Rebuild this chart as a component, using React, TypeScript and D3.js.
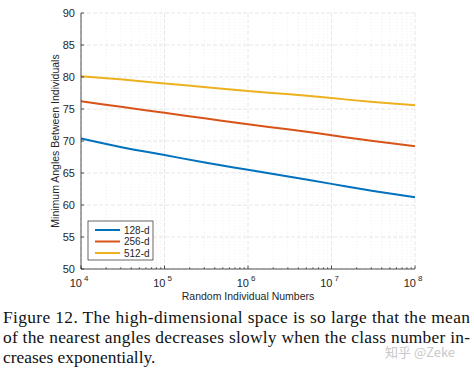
import React, { useEffect, useRef } from "react";
import * as d3 from "d3";

// values, at each half decade of N
const xValues = [1e4, 10 ** 4.5, 1e5, 10 ** 5.5, 1e6, 10 ** 6.5, 1e7, 10 ** 7.5, 1e8];
const series128 = [70.4, 69.0, 67.8, 66.6, 65.5, 64.4, 63.3, 62.2, 61.2];
const series256 = [76.2, 75.3, 74.4, 73.5, 72.6, 71.8, 70.9, 70.0, 69.2];
const series512 = [80.1, 79.6, 79.0, 78.4, 77.8, 77.3, 76.7, 76.1, 75.6];
const seriesNames = ["128-d", "256-d", "512-d"];
const seriesColors = ["#0072BD", "#D95319", "#EDB120"];
const yTicks = [50, 55, 60, 65, 70, 75, 80, 85, 90];
const xExponents = [4, 5, 6, 7, 8];
const captionLines = [
  "Figure 12. The high-dimensional space is so large that the mean",
  "of the nearest angles decreases slowly when the class number in-",
  "creases exponentially.",
];

const App = () => {
  const ref = useRef<SVGSVGElement>(null);

  useEffect(() => {
    const svg = d3.select(ref.current);
    svg.selectAll("*").remove();

    const left = 81, right = 415, top = 13, bottom = 269;
    const x = d3.scaleLog().domain([1e4, 1e8]).range([left, right]);
    const y = d3.scaleLinear().domain([50, 90]).range([bottom, top]);
    const axisColor = "#262626";
    const font = "Liberation Sans, Arial, Helvetica, sans-serif";

    // grille
    const minor: number[] = [];
    for (let e = 4; e < 8; e++) for (let k = 2; k <= 9; k++) minor.push(k * 10 ** e);
    svg.append("g").selectAll("line").data(minor).join("line")
      .attr("x1", d => x(d)).attr("x2", d => x(d))
      .attr("y1", top).attr("y2", bottom)
      .attr("stroke", "#e4e4e4").attr("stroke-width", 0.6)
      .attr("stroke-dasharray", "1,2");
    svg.append("g").selectAll("line").data(xExponents.map(e => 10 ** e)).join("line")
      .attr("x1", d => x(d)).attr("x2", d => x(d))
      .attr("y1", top).attr("y2", bottom)
      .attr("stroke", "#dcdcdc").attr("stroke-width", 0.7)
      .attr("stroke-dasharray", "4,2");
    svg.append("g").selectAll("line").data(yTicks).join("line")
      .attr("x1", left).attr("x2", right)
      .attr("y1", d => y(d)).attr("y2", d => y(d))
      .attr("stroke", "#dcdcdc").attr("stroke-width", 0.7)
      .attr("stroke-dasharray", "4,2");

    // courbes
    const line = d3.line<number>()
      .x((_, i) => x(xValues[i]))
      .y(d => y(d))
      .curve(d3.curveMonotoneX);
    [series128, series256, series512].forEach((s, i) => {
      svg.append("path")
        .attr("d", line(s))
        .attr("fill", "none")
        .attr("stroke", seriesColors[i])
        .attr("stroke-width", 2);
    });

    // axes
    svg.append("line").attr("x1", left).attr("x2", left).attr("y1", top).attr("y2", bottom)
      .attr("stroke", axisColor).attr("stroke-width", 0.8);
    svg.append("line").attr("x1", left).attr("x2", right).attr("y1", bottom).attr("y2", bottom)
      .attr("stroke", axisColor).attr("stroke-width", 0.8);

    svg.append("g").selectAll("line").data(yTicks).join("line")
      .attr("x1", left).attr("x2", left + 3)
      .attr("y1", d => y(d)).attr("y2", d => y(d))
      .attr("stroke", axisColor).attr("stroke-width", 0.8);
    svg.append("g").selectAll("text").data(yTicks).join("text")
      .attr("x", left - 6).attr("y", d => y(d) + 4)
      .attr("text-anchor", "end")
      .style("font-family", font).attr("font-size", 11)
      .attr("fill", axisColor)
      .text(d => d);

    svg.append("g").selectAll("line").data(minor).join("line")
      .attr("x1", d => x(d)).attr("x2", d => x(d))
      .attr("y1", bottom).attr("y2", bottom - 2)
      .attr("stroke", axisColor).attr("stroke-width", 0.6);
    svg.append("g").selectAll("line").data(xExponents).join("line")
      .attr("x1", d => x(10 ** d)).attr("x2", d => x(10 ** d))
      .attr("y1", bottom).attr("y2", bottom - 3.5)
      .attr("stroke", axisColor).attr("stroke-width", 0.8);

    const xl = svg.append("g").selectAll("text").data(xExponents).join("text")
      .attr("x", d => x(10 ** d) - 2).attr("y", bottom + 18)
      .attr("text-anchor", "middle")
      .style("font-family", font).attr("font-size", 11)
      .attr("fill", axisColor);
    xl.append("tspan").text("10");
    xl.append("tspan").attr("dx", 2).attr("dy", -6).attr("font-size", 8).text(d => d);

    svg.append("text")
      .attr("x", 248).attr("y", 300)
      .attr("text-anchor", "middle")
      .style("font-family", font).attr("font-size", 10.5)
      .attr("fill", axisColor)
      .text("Random Individual Numbers");
    svg.append("text")
      .attr("transform", `translate(59, ${(top + bottom) / 2}) rotate(-90)`)
      .attr("text-anchor", "middle")
      .style("font-family", font).attr("font-size", 10.5)
      .attr("fill", axisColor)
      .text("Minimum Angles Between Individuals");

    // légende
    const lg = svg.append("g").attr("transform", "translate(88, 221)");
    lg.append("rect").attr("width", 65).attr("height", 39)
      .attr("fill", "white").attr("stroke", "#262626").attr("stroke-width", 0.7);
    seriesNames.forEach((name, i) => {
      const yy = 9 + i * 11.5;
      lg.append("line").attr("x1", 7).attr("x2", 32).attr("y1", yy).attr("y2", yy)
        .attr("stroke", seriesColors[i]).attr("stroke-width", 2);
      lg.append("text").attr("x", 36).attr("y", yy + 3.5)
        .style("font-family", font).attr("font-size", 10)
        .attr("fill", axisColor).text(name);
    });

    // légende de la figure
    captionLines.forEach((t, i) => {
      const txt = svg.append("text")
        .attr("x", 3).attr("y", 323 + i * 20)
        .style("font-family", "Liberation Serif, Times New Roman, Times, serif")
        .attr("font-size", 17.4)
        .attr("fill", "#111")
        .text(t);
      if (i < 2) txt.attr("textLength", 467).attr("lengthAdjust", "spacing");
    });

    svg.append("text")
      .attr("x", 385).attr("y", 357)
      .style("font-family", "Noto Sans CJK SC, sans-serif")
      .attr("font-size", 13)
      .attr("fill", "#c8c8c8")
      .text("知乎 @Zeke");
  }, []);

  return <svg ref={ref} width={474} height={374} style={{ position: "absolute", left: 0, top: 0 }}></svg>;
};

export default App;
